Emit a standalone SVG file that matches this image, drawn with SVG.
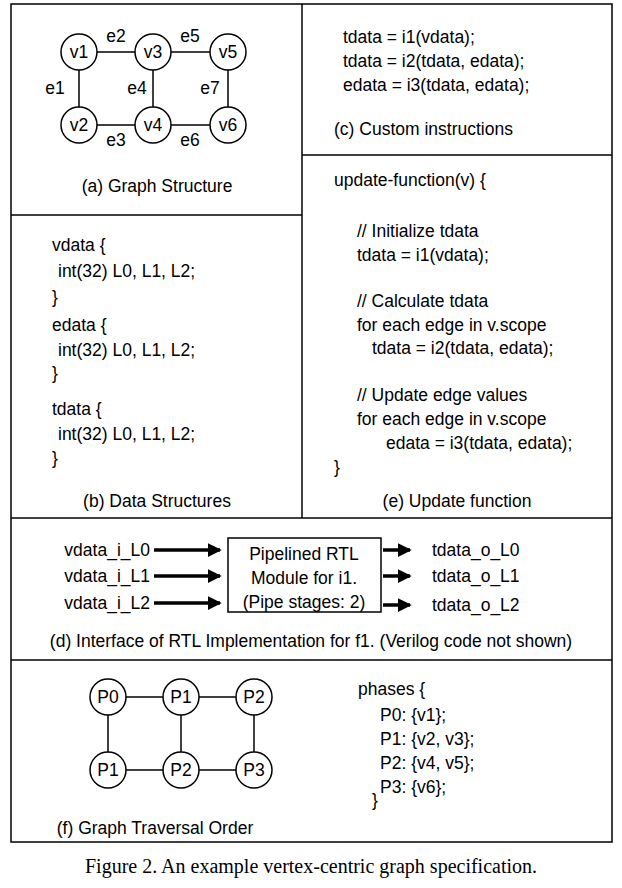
<svg xmlns="http://www.w3.org/2000/svg" width="622" height="888" viewBox="0 0 622 888">
<style>
text{font-family:"Liberation Sans",Arial,sans-serif;font-size:17.5px;fill:#000}
.c{text-anchor:middle}
.r{text-anchor:end}
.cap{font-family:"Liberation Serif","Times New Roman",serif;font-size:20px}
line,circle,rect,path{stroke:#000;stroke-width:1.5;fill:#fff}
.a{stroke-width:3.5}
</style>
<defs><marker id="ar" markerWidth="4" markerHeight="4" refX="3.5" refY="2" orient="auto"><path d="M0,0L4,2L0,4Z" style="stroke:none;fill:#000"/></marker></defs>
<g id="frame">
<rect x="11" y="4" width="601" height="838" style="fill:none"/>
<line x1="302" y1="4" x2="302" y2="518"/>
<line x1="11" y1="215" x2="302" y2="215"/>
<line x1="302" y1="155" x2="612" y2="155"/>
<line x1="11" y1="518" x2="612" y2="518"/>
<line x1="11" y1="660" x2="612" y2="660"/>
</g>
<g id="connectors">
<line x1="97" y1="52" x2="135" y2="52"/><line x1="171" y1="52" x2="210" y2="52"/>
<line x1="97" y1="125" x2="135" y2="125"/><line x1="171" y1="125" x2="210" y2="125"/>
<line x1="79" y1="70" x2="79" y2="107"/><line x1="153" y1="70" x2="153" y2="107"/><line x1="228" y1="70" x2="228" y2="107"/>
<line x1="126" y1="697" x2="163" y2="697"/><line x1="199" y1="697" x2="236" y2="697"/>
<line x1="126" y1="770" x2="163" y2="770"/><line x1="199" y1="770" x2="236" y2="770"/>
<line x1="108" y1="715" x2="108" y2="752"/><line x1="181" y1="715" x2="181" y2="752"/><line x1="254" y1="715" x2="254" y2="752"/>
<line class="a" x1="154" y1="550" x2="220" y2="550" marker-end="url(#ar)"/>
<line class="a" x1="154" y1="576" x2="220" y2="576" marker-end="url(#ar)"/>
<line class="a" x1="154" y1="603" x2="220" y2="603" marker-end="url(#ar)"/>
<line class="a" x1="383" y1="550" x2="410" y2="550" marker-end="url(#ar)"/>
<line class="a" x1="383" y1="576" x2="410" y2="576" marker-end="url(#ar)"/>
<line class="a" x1="383" y1="605" x2="410" y2="605" marker-end="url(#ar)"/>
</g>
<g id="v1"><circle cx="79" cy="52" r="18"/><text class="c" x="79" y="58">v1</text></g>
<g id="v3"><circle cx="153" cy="52" r="18"/><text class="c" x="153" y="58">v3</text></g>
<g id="v5"><circle cx="228" cy="52" r="18"/><text class="c" x="228" y="58">v5</text></g>
<g id="v2"><circle cx="79" cy="125" r="18"/><text class="c" x="79" y="131">v2</text></g>
<g id="v4"><circle cx="153" cy="125" r="18"/><text class="c" x="153" y="131">v4</text></g>
<g id="v6"><circle cx="228" cy="125" r="18"/><text class="c" x="228" y="131">v6</text></g>
<g id="edge-labels">
<text class="c" x="116" y="42">e2</text><text class="c" x="190" y="42">e5</text>
<text class="c" x="55" y="94">e1</text><text class="c" x="137" y="94">e4</text><text class="c" x="210" y="94">e7</text>
<text class="c" x="116" y="146">e3</text><text class="c" x="190" y="146">e6</text>
<text class="c" x="157" y="192">(a) Graph Structure</text>
</g>
<g id="b">
<text x="52" y="251">vdata {</text><text x="58" y="277">int(32) L0, L1, L2;</text><text x="52" y="303">}</text>
<text x="52" y="331">edata {</text><text x="58" y="356">int(32) L0, L1, L2;</text><text x="52" y="379">}</text>
<text x="52" y="415">tdata {</text><text x="58" y="440">int(32) L0, L1, L2;</text><text x="52" y="464">}</text>
<text class="c" x="157" y="507">(b) Data Structures</text>
</g>
<g id="c">
<text x="343" y="43">tdata = i1(vdata);</text>
<text x="343" y="67">tdata = i2(tdata, edata);</text>
<text x="343" y="91">edata = i3(tdata, edata);</text>
<text x="334" y="135">(c) Custom instructions</text>
</g>
<g id="e">
<text x="334" y="186">update-function(v) {</text>
<text x="357" y="237">// Initialize tdata</text>
<text x="357" y="261">tdata = i1(vdata);</text>
<text x="357" y="307">// Calculate tdata</text>
<text x="357" y="331">for each edge in v.scope</text>
<text x="372" y="354">tdata = i2(tdata, edata);</text>
<text x="357" y="401">// Update edge values</text>
<text x="357" y="425">for each edge in v.scope</text>
<text x="386" y="449">edata = i3(tdata, edata);</text>
<text x="334" y="473">}</text>
<text class="c" x="457" y="507">(e) Update function</text>
</g>
<g id="rtl">
<rect x="228" y="538" width="153" height="74"/>
<text class="c" x="304" y="560">Pipelined RTL</text>
<text class="c" x="304" y="584">Module for i1.</text>
<text class="c" x="304" y="608">(Pipe stages: 2)</text>
</g>
<g id="d-labels">
<text class="r" x="150" y="556">vdata_i_L0</text>
<text class="r" x="150" y="582">vdata_i_L1</text>
<text class="r" x="150" y="609">vdata_i_L2</text>
<text x="432" y="556">tdata_o_L0</text>
<text x="432" y="582">tdata_o_L1</text>
<text x="432" y="611">tdata_o_L2</text>
<text class="c" x="311" y="647">(d) Interface of RTL Implementation for f1. (Verilog code not shown)</text>
</g>
<g id="P0a"><circle cx="108" cy="697" r="18"/><text class="c" x="108" y="703">P0</text></g>
<g id="P1a"><circle cx="181" cy="697" r="18"/><text class="c" x="181" y="703">P1</text></g>
<g id="P2a"><circle cx="254" cy="697" r="18"/><text class="c" x="254" y="703">P2</text></g>
<g id="P1b"><circle cx="108" cy="770" r="18"/><text class="c" x="108" y="776">P1</text></g>
<g id="P2b"><circle cx="181" cy="770" r="18"/><text class="c" x="181" y="776">P2</text></g>
<g id="P3b"><circle cx="254" cy="770" r="18"/><text class="c" x="254" y="776">P3</text></g>
<g id="f">
<text x="358" y="695">phases {</text>
<text x="380" y="721">P0: {v1};</text>
<text x="380" y="745">P1: {v2, v3};</text>
<text x="380" y="769">P2: {v4, v5};</text>
<text x="380" y="793">P3: {v6};</text>
<text x="372" y="806">}</text>
<text class="c" x="155" y="834">(f) Graph Traversal Order</text>
</g>
<text class="c cap" x="311" y="873">Figure 2. An example vertex-centric graph specification.</text>
</svg>
